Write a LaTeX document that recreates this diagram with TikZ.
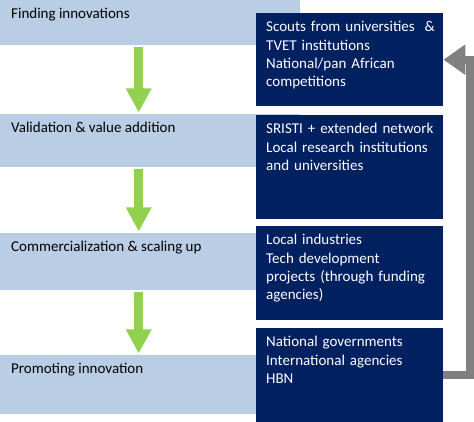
\documentclass[tikz,border=0pt]{standalone}
\usepackage{fontspec}
\setmainfont{Carlito}
\usetikzlibrary{positioning,arrows.meta}
\definecolor{stageblue}{HTML}{B9CDE5}
\definecolor{actornavy}{HTML}{002060}
\definecolor{flowgreen}{HTML}{92D050}
\definecolor{loopgray}{HTML}{808080}

\begin{document}
\begin{tikzpicture}[x=1pt, y=1pt,
  stage_style/.style={rectangle, fill=stageblue, minimum width=300pt, inner sep=0pt, anchor=north west},
  actor_style/.style={rectangle, fill=actornavy, minimum width=187pt, inner sep=0pt, anchor=north west},
  label_style/.style={anchor=base west, inner sep=0pt, font=\fontsize{15}{18.3}\selectfont},
  list_style/.style={anchor=base west, inner sep=0pt, text=white, text width=180pt, align=left, font=\fontsize{15}{18.3}\selectfont},
  flow_style/.style={draw=flowgreen, line width=9pt, shorten <=2pt, shorten >=1.5pt, -{Triangle[length=24pt,width=24pt]}},
  loop_style/.style={draw=loopgray, line width=8pt, -{Triangle[length=22pt,width=29pt]}}]
  \useasboundingbox (0,0) rectangle (474,422);
  %
  \node (find) [stage_style, minimum height=45pt] at (0,422) {};
  \node (valid) [stage_style, minimum height=53pt] at (0,308) {};
  \node (comm) [stage_style, minimum height=57pt] at (0,189) {};
  \node (promo) [stage_style, minimum height=59pt] at (0,67) {};
  %
  \node (scouts) [actor_style, minimum height=93pt] at (256,409) {};
  \node (sristi) [actor_style, minimum height=104pt] at (256,307) {};
  \node (indus) [actor_style, minimum height=94pt] at (256,196) {};
  \node (govt) [actor_style, minimum height=94pt] at (256,94) {};
  %
  \node (find_text) [label_style] at ([xshift=11pt,yshift=-19pt]find.north west) {Finding innovations};
  \node (valid_text) [label_style] at ([xshift=11pt,yshift=-19pt]valid.north west) {Validation \& value addition};
  \node (comm_text) [label_style] at ([xshift=11pt,yshift=-19pt]comm.north west) {Commercialization \& scaling up};
  \node (promo_text) [label_style] at ([xshift=11pt,yshift=-19pt]promo.north west) {Promoting innovation};
  %
  \node (scouts_text) [list_style] at ([xshift=10pt,yshift=-19pt]scouts.north west) {Scouts from universities\ \ \&\\TVET institutions\\National/pan African\\competitions};
  \node (sristi_text) [list_style] at ([xshift=10pt,yshift=-19pt]sristi.north west) {SRISTI + extended network\\Local research institutions\\and universities};
  \node (indus_text) [list_style] at ([xshift=10pt,yshift=-19pt]indus.north west) {Local industries\\Tech development\\projects (through funding\\agencies)};
  \node (govt_text) [list_style] at ([xshift=10pt,yshift=-19pt]govt.north west) {National governments\\International agencies\\HBN};
  %
  \draw [flow_style] ([xshift=-11.5pt]find.south) -- ([xshift=-11.5pt]valid.north);
  \draw [flow_style] ([xshift=-11.5pt]valid.south) -- ([xshift=-11.5pt]comm.north);
  \draw [flow_style] ([xshift=-11.5pt]comm.south) -- ([xshift=-11.5pt]promo.north);
  \draw [loop_style] (govt.east) -- ++(27,0) |- (scouts.east);
\end{tikzpicture}
\end{document}
